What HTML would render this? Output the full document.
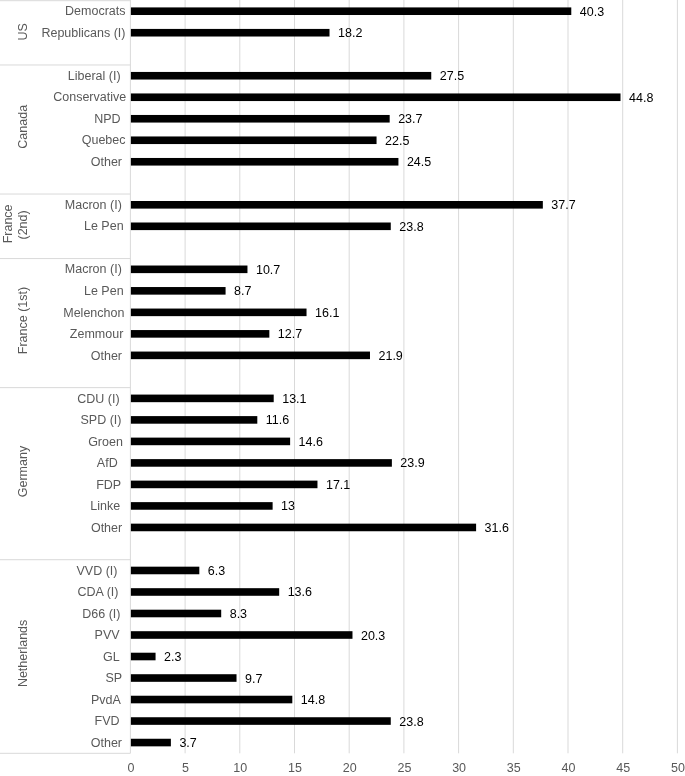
<!DOCTYPE html>
<html lang="en"><head><meta charset="utf-8"><title>Vote share chart</title>
<style>html,body{margin:0;padding:0;background:#fff}svg{display:block}text{font-family:"Liberation Sans",Arial,Helvetica,sans-serif}</style></head><body>
<svg width="685" height="776" viewBox="0 0 685 776">
<rect width="685" height="776" fill="#fff"/>
<g stroke="#d9d9d9" stroke-width="1">
<line x1="130.40" y1="0" x2="130.40" y2="753.3"/>
<line x1="185.10" y1="0" x2="185.10" y2="753.3"/>
<line x1="239.80" y1="0" x2="239.80" y2="753.3"/>
<line x1="294.50" y1="0" x2="294.50" y2="753.3"/>
<line x1="349.20" y1="0" x2="349.20" y2="753.3"/>
<line x1="403.90" y1="0" x2="403.90" y2="753.3"/>
<line x1="458.60" y1="0" x2="458.60" y2="753.3"/>
<line x1="513.30" y1="0" x2="513.30" y2="753.3"/>
<line x1="568.00" y1="0" x2="568.00" y2="753.3"/>
<line x1="622.70" y1="0" x2="622.70" y2="753.3"/>
<line x1="677.40" y1="0" x2="677.40" y2="753.3"/>
<line x1="0" y1="0.70" x2="130.4" y2="0.70"/>
<line x1="0" y1="64.98" x2="130.4" y2="64.98"/>
<line x1="0" y1="194.04" x2="130.4" y2="194.04"/>
<line x1="0" y1="258.57" x2="130.4" y2="258.57"/>
<line x1="0" y1="387.63" x2="130.4" y2="387.63"/>
<line x1="0" y1="559.71" x2="130.4" y2="559.71"/>
<line x1="0" y1="753.30" x2="130.4" y2="753.30"/>
</g>
<g fill="#000"><rect x="130.90" y="7.41" width="440.38" height="7.6"/>
<rect x="130.90" y="28.92" width="198.61" height="7.6"/>
<rect x="130.90" y="71.94" width="300.35" height="7.6"/>
<rect x="130.90" y="93.45" width="489.61" height="7.6"/>
<rect x="130.90" y="114.96" width="258.78" height="7.6"/>
<rect x="130.90" y="136.46" width="245.65" height="7.6"/>
<rect x="130.90" y="157.97" width="267.53" height="7.6"/>
<rect x="130.90" y="201.00" width="411.94" height="7.6"/>
<rect x="130.90" y="222.50" width="259.87" height="7.6"/>
<rect x="130.90" y="265.52" width="116.56" height="7.6"/>
<rect x="130.90" y="287.04" width="94.68" height="7.6"/>
<rect x="130.90" y="308.55" width="175.63" height="7.6"/>
<rect x="130.90" y="330.06" width="138.44" height="7.6"/>
<rect x="130.90" y="351.56" width="239.09" height="7.6"/>
<rect x="130.90" y="394.58" width="142.81" height="7.6"/>
<rect x="130.90" y="416.10" width="126.40" height="7.6"/>
<rect x="130.90" y="437.61" width="159.22" height="7.6"/>
<rect x="130.90" y="459.12" width="260.97" height="7.6"/>
<rect x="130.90" y="480.62" width="186.57" height="7.6"/>
<rect x="130.90" y="502.13" width="141.72" height="7.6"/>
<rect x="130.90" y="523.65" width="345.20" height="7.6"/>
<rect x="130.90" y="566.67" width="68.42" height="7.6"/>
<rect x="130.90" y="588.18" width="148.28" height="7.6"/>
<rect x="130.90" y="609.69" width="90.30" height="7.6"/>
<rect x="130.90" y="631.20" width="221.58" height="7.6"/>
<rect x="130.90" y="652.71" width="24.66" height="7.6"/>
<rect x="130.90" y="674.22" width="105.62" height="7.6"/>
<rect x="130.90" y="695.73" width="161.41" height="7.6"/>
<rect x="130.90" y="717.24" width="259.87" height="7.6"/>
<rect x="130.90" y="738.75" width="39.98" height="7.6"/></g>
<g font-size="12.5" fill="#595959" text-anchor="end"><text x="125.50" y="15.36">Democrats</text>
<text x="125.50" y="36.87">Republicans (I)</text>
<text x="120.60" y="79.89">Liberal (I)</text>
<text x="126.20" y="101.40">Conservative</text>
<text x="120.60" y="122.91">NPD</text>
<text x="125.50" y="144.41">Quebec</text>
<text x="122.00" y="165.93">Other</text>
<text x="121.80" y="208.95">Macron (I)</text>
<text x="123.60" y="230.46">Le Pen</text>
<text x="121.80" y="273.47">Macron (I)</text>
<text x="123.60" y="294.99">Le Pen</text>
<text x="124.40" y="316.50">Melenchon</text>
<text x="123.30" y="338.00">Zemmour</text>
<text x="122.00" y="359.51">Other</text>
<text x="119.60" y="402.53">CDU (I)</text>
<text x="121.50" y="424.05">SPD (I)</text>
<text x="122.90" y="445.56">Groen</text>
<text x="117.70" y="467.06">AfD</text>
<text x="121.20" y="488.57">FDP</text>
<text x="120.20" y="510.08">Linke</text>
<text x="122.20" y="531.60">Other</text>
<text x="117.50" y="574.62">VVD (I)</text>
<text x="118.50" y="596.13">CDA (I)</text>
<text x="120.50" y="617.64">D66 (I)</text>
<text x="119.60" y="639.15">PVV</text>
<text x="119.60" y="660.66">GL</text>
<text x="122.10" y="682.17">SP</text>
<text x="120.90" y="703.68">PvdA</text>
<text x="119.60" y="725.19">FVD</text>
<text x="122.00" y="746.70">Other</text></g>
<g font-size="12.5" fill="#000"><text x="579.78" y="15.71">40.3</text>
<text x="338.01" y="37.22">18.2</text>
<text x="439.75" y="80.24">27.5</text>
<text x="629.01" y="101.75">44.8</text>
<text x="398.18" y="123.26">23.7</text>
<text x="385.05" y="144.76">22.5</text>
<text x="406.93" y="166.28">24.5</text>
<text x="551.34" y="209.30">37.7</text>
<text x="399.27" y="230.81">23.8</text>
<text x="255.96" y="273.82">10.7</text>
<text x="234.08" y="295.34">8.7</text>
<text x="315.03" y="316.85">16.1</text>
<text x="277.84" y="338.36">12.7</text>
<text x="378.49" y="359.87">21.9</text>
<text x="282.21" y="402.88">13.1</text>
<text x="265.80" y="424.40">11.6</text>
<text x="298.62" y="445.91">14.6</text>
<text x="400.37" y="467.42">23.9</text>
<text x="325.97" y="488.93">17.1</text>
<text x="281.12" y="510.44">13</text>
<text x="484.60" y="531.95">31.6</text>
<text x="207.82" y="574.97">6.3</text>
<text x="287.68" y="596.48">13.6</text>
<text x="229.70" y="617.99">8.3</text>
<text x="360.98" y="639.50">20.3</text>
<text x="164.06" y="661.01">2.3</text>
<text x="245.02" y="682.52">9.7</text>
<text x="300.81" y="704.03">14.8</text>
<text x="399.27" y="725.54">23.8</text>
<text x="179.38" y="747.05">3.7</text></g>
<g font-size="12.5" fill="#595959" text-anchor="middle"><text transform="translate(27,31.92) rotate(-90)">US</text>
<text transform="translate(27,126.81) rotate(-90)">Canada</text>
<text transform="translate(12.4,223.91) rotate(-90)">France</text>
<text transform="translate(27.3,224.91) rotate(-90)">(2nd)</text>
<text transform="translate(27,320.50) rotate(-90)">France (1st)</text>
<text transform="translate(27,471.57) rotate(-90)">Germany</text>
<text transform="translate(27,653.41) rotate(-90)">Netherlands</text>
<text x="130.90" y="771.8">0</text>
<text x="185.60" y="771.8">5</text>
<text x="240.30" y="771.8">10</text>
<text x="295.00" y="771.8">15</text>
<text x="349.70" y="771.8">20</text>
<text x="404.40" y="771.8">25</text>
<text x="459.10" y="771.8">30</text>
<text x="513.80" y="771.8">35</text>
<text x="568.50" y="771.8">40</text>
<text x="623.20" y="771.8">45</text>
<text x="677.90" y="771.8">50</text>
</g>
</svg></body></html>
